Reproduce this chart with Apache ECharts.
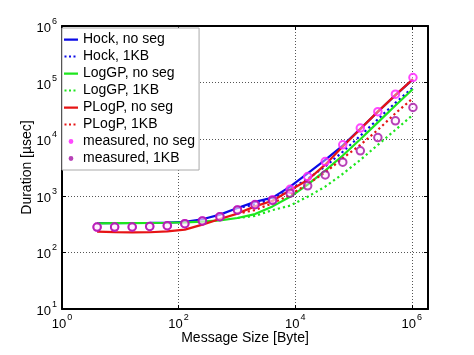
<!DOCTYPE html>
<html>
<head>
<meta charset="utf-8">
<script src="https://cdn.jsdelivr.net/npm/echarts@6/dist/echarts.min.js"></script>
<style>
html,body{margin:0;padding:0;background:#fff;}
#chart{width:474px;height:355px;}
</style>
</head>
<body>
<div id="chart"></div>
<script>
// Message sizes (bytes): 2^2 .. 2^20
const sizes = [4, 8, 16, 32, 64, 128, 256, 512, 1024, 2048, 4096, 8192, 16384, 32768, 65536, 131072, 262144, 524288, 1048576];

const hockNoSeg   = [330, 330, 331, 333, 336, 345, 385, 465, 610, 780, 930, 1450, 2500, 4300, 7700, 15200, 30500, 60000, 114000];
const hock1KB     = [null, null, null, null, null, null, null, null, 610, 700, 880, 1300, 2000, 3300, 6000, 11500, 22500, 44000, 82000];
const logGPNoSeg  = [327, 328, 329, 331, 334, 340, 350, 368, 405, 475, 650, 960, 1570, 2780, 5150, 10000, 19800, 39500, 77000];
const logGP1KB    = [null, null, null, null, null, null, null, null, 405, 441, 560, 670, 965, 1450, 2440, 4300, 7950, 14600, 27000];
const plogpNoSeg  = [233, 228, 226, 227, 235, 252, 310, 390, 485, 650, 820, 1250, 1900, 3550, 7450, 15100, 30700, 60000, 115000];
const plogp1KB    = [null, null, null, null, null, null, null, null, 485, 560, 740, 1040, 1620, 2580, 4610, 7950, 14600, 28700, 53000];
const measNoSeg   = [280, 280, 281, 288, 297, 322, 360, 428, 562, 700, 850, 1306, 2190, 4020, 7940, 15700, 30700, 62500, 123000];
const meas1KB     = [280, 280, 281, 288, 297, 322, 360, 428, 562, 695, 830, 1110, 1500, 2340, 3920, 6230, 10700, 21100, 36300];

const seriesNames = ['Hock, no seg', 'Hock, 1KB', 'LogGP, no seg', 'LogGP, 1KB', 'PLogP, no seg', 'PLogP, 1KB', 'measured, no seg', 'measured, 1KB'];
const xTitle = 'Message Size [Byte]';
const yTitle = 'Duration [\u00b5sec]';

const FONT = 'Liberation Sans, Arial, Helvetica, sans-serif';
const BLUE = '#0a0ae6', GREEN = '#1ee61e', RED = '#e61414', MAG = '#ff1aff', PUR = '#a511a5';

// legend icons (14 x 10 box, invisible corner specks fix the box size)
const BOX = 'M0,0h0.01v0.01h-0.01z M14,10h0.01v0.01h-0.01z ';
const ICON_SOLID = 'path://' + BOX + 'M0,4h14v2.2h-14z';
const ICON_DOT = 'path://' + BOX + 'M0.5,4h2v2h-2z M5,4h2v2h-2z M9.5,4h2v2h-2z';
const ICON_MARK = 'path://' + BOX + 'M4.6,5a2.4,2.4 0 1 0 4.8,0a2.4,2.4 0 1 0 -4.8,0z';

function pairs(ys) {
  const out = [];
  for (let i = 0; i < sizes.length; i++) if (ys[i] != null) out.push([sizes[i], ys[i]]);
  return out;
}
function powLabel(v) {
  const l = Math.log10(v);
  const e = Math.round(l);
  if (Math.abs(l - e) > 1e-6) return '';
  return '{b|10}{s|' + e + '}';
}
const rich = {
  b: {fontSize: 13, fontFamily: FONT, color: '#000', lineHeight: 18, verticalAlign: 'bottom'},
  s: {fontSize: 9, fontFamily: FONT, color: '#000', lineHeight: 18, verticalAlign: 'top', padding: [0, 0, 0, 1]}
};

function lineSeries(name, ys, color, dotted) {
  return {
    name, type: 'line', data: pairs(ys), symbol: 'none', showSymbol: false,
    lineStyle: {color, width: 2.2, type: dotted ? [2.2, 3] : 'solid'},
    itemStyle: {color}, silent: true, animation: false, z: 2
  };
}
function markSeries(name, ys, color) {
  return {
    name, type: 'scatter', data: pairs(ys), symbol: 'circle', symbolSize: 7.5,
    itemStyle: {color: 'rgba(255,235,255,0.5)', borderColor: color, borderWidth: 2},
    silent: true, animation: false, z: 3
  };
}

const chart = echarts.init(document.getElementById('chart'), null, {renderer: 'canvas'});
const xCommon = {type: 'log', logBase: 10, min: 1, max: 1.9e6, interval: 2};
const yCommon = {type: 'log', logBase: 10, min: 10, max: 1e6, interval: 1};
const legendColors = [BLUE, BLUE, GREEN, GREEN, RED, RED, MAG, PUR];
const legendIcons = [ICON_SOLID, ICON_DOT, ICON_SOLID, ICON_DOT, ICON_SOLID, ICON_DOT, ICON_MARK, ICON_MARK];
chart.setOption({
  animation: false,
  backgroundColor: '#fff',
  grid: {left: 62, right: 46, top: 26, bottom: 46, containLabel: false},
  legend: {
    orient: 'vertical', left: 62, top: 28,
    padding: [3, 4, 3, 2], itemGap: 0, itemWidth: 14, itemHeight: 10,
    backgroundColor: '#fff', borderColor: '#aaa', borderWidth: 1, borderRadius: 0,
    textStyle: {fontSize: 14, fontFamily: FONT, color: '#000', lineHeight: 17},
    data: seriesNames.map((n, i) => ({name: n, icon: legendIcons[i], itemStyle: {color: legendColors[i], borderWidth: 0}})),
    selectedMode: false
  },
  xAxis: [
    Object.assign({}, xCommon, {
      position: 'bottom',
      name: xTitle, nameLocation: 'middle', nameGap: 22, nameMoveOverlap: false,
      nameTextStyle: {fontSize: 14, fontFamily: FONT, color: '#000'},
      axisLine: {show: true, lineStyle: {color: '#000', width: 2}},
      axisTick: {show: true, inside: true, length: 4, lineStyle: {color: '#000', width: 1}},
      axisLabel: {formatter: powLabel, rich, margin: 4, showMaxLabel: false},
      splitLine: {show: true, lineStyle: {color: '#555', width: 1, type: [1, 2]}},
      minorTick: {show: false}
    }),
    Object.assign({}, xCommon, {
      position: 'top',
      axisLine: {show: true, lineStyle: {color: '#000', width: 2}},
      axisTick: {show: true, inside: true, length: 4, lineStyle: {color: '#000', width: 1}},
      axisLabel: {show: false}, splitLine: {show: false}
    })
  ],
  yAxis: [
    Object.assign({}, yCommon, {
      position: 'left',
      name: yTitle, nameLocation: 'middle', nameGap: 28, nameRotate: 90, nameMoveOverlap: false,
      nameTextStyle: {fontSize: 14, fontFamily: FONT, color: '#000'},
      axisLine: {show: true, lineStyle: {color: '#000', width: 2}},
      axisTick: {show: true, inside: true, length: 4, lineStyle: {color: '#000', width: 1}},
      axisLabel: {formatter: powLabel, rich, margin: 5},
      splitLine: {show: true, lineStyle: {color: '#555', width: 1, type: [1, 2]}}
    }),
    Object.assign({}, yCommon, {
      position: 'right',
      axisLine: {show: true, lineStyle: {color: '#000', width: 2}},
      axisTick: {show: true, inside: true, length: 4, lineStyle: {color: '#000', width: 1}},
      axisLabel: {show: false}, splitLine: {show: false}
    })
  ],
  series: [
    lineSeries(seriesNames[0], hockNoSeg, BLUE, false),
    lineSeries(seriesNames[1], hock1KB, BLUE, true),
    lineSeries(seriesNames[2], logGPNoSeg, GREEN, false),
    lineSeries(seriesNames[3], logGP1KB, GREEN, true),
    lineSeries(seriesNames[4], plogpNoSeg, RED, false),
    lineSeries(seriesNames[5], plogp1KB, RED, true),
    markSeries(seriesNames[6], measNoSeg, MAG),
    markSeries(seriesNames[7], meas1KB, PUR)
  ]
});
</script>
</body>
</html>
